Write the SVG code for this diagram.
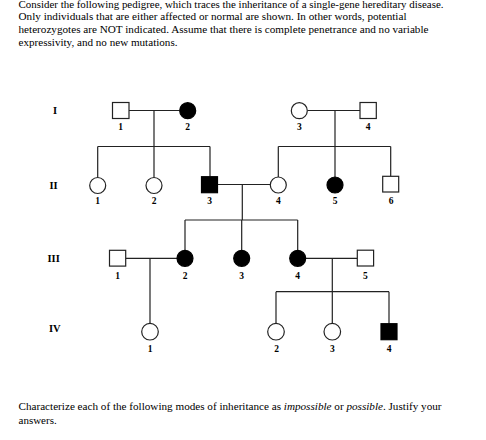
<svg xmlns="http://www.w3.org/2000/svg" width="486" height="440" viewBox="0 0 486 440">
<style>
.t{font-family:"Liberation Serif","Times New Roman",serif;font-size:11px;fill:#000}
.g{font-family:"Liberation Serif","Times New Roman",serif;font-size:10.5px;font-weight:bold;fill:#000}
.n{font-family:"Liberation Serif","Times New Roman",serif;font-size:9.5px;font-weight:bold;fill:#000;text-anchor:middle}
.ln{stroke:#222;stroke-width:1.2;fill:none}
.o{fill:#fff;stroke:#222;stroke-width:1.2}
.f{fill:#000;stroke:#000;stroke-width:1.2}
</style>
<rect width="486" height="440" fill="#fff"/>
<g id="intro">
<text class="t" x="18.5" y="7.5" textLength="425" lengthAdjust="spacingAndGlyphs">Consider the following pedigree, which traces the inheritance of a single-gene hereditary disease.</text>
<text class="t" x="18.5" y="20" textLength="388" lengthAdjust="spacingAndGlyphs">Only individuals that are either affected or normal are shown. In other words, potential</text>
<text class="t" x="18.5" y="33" textLength="410" lengthAdjust="spacingAndGlyphs">heterozygotes are NOT indicated. Assume that there is complete penetrance and no variable</text>
<text class="t" x="18.5" y="45.5" textLength="159" lengthAdjust="spacingAndGlyphs">expressivity, and no new mutations.</text>
</g>
<g id="gen-labels">
<text class="g" x="53" y="114">I</text>
<text class="g" x="49.5" y="189">II</text>
<text class="g" x="47.5" y="261.5">III</text>
<text class="g" x="49" y="331.5">IV</text>
</g>
<g id="connectors">
<path class="ln" d="M129 110.5H179.5M154 110.5V146.5M97.7 146.5H210M97.7 146.5V177.5M154 146.5V177.5M210 146.5V176.7"/>
<path class="ln" d="M307.5 110.5H360M335 110.5V146.5M278.3 146.5H390.7M278.3 146.5V177M335 146.5V177M390.7 146.5V176.3"/>
<path class="ln" d="M217.3 184.5H270M242.3 184.5V220M185 220H297.7M185 220V250M241.7 220V250M297.7 220V250"/>
<path class="ln" d="M125.7 258.3H177M150 258.3V323.4"/>
<path class="ln" d="M306 258.3H357.3M332.3 258.3V291.7M276 291.7H389M276 291.7V323.4M332.3 291.7V323.4M389 291.7V323.7"/>
</g>
<g id="I-1"><rect class="o" x="112.5" y="102.5" width="16.5" height="16"/><text class="n" x="120.5" y="130">1</text></g>
<g id="I-2"><circle class="f" cx="187.7" cy="110.7" r="8"/><text class="n" x="187.7" y="130">2</text></g>
<g id="I-3"><circle class="o" cx="299.3" cy="110.7" r="8"/><text class="n" x="299.3" y="130">3</text></g>
<g id="I-4"><rect class="o" x="360" y="102.5" width="16.3" height="16"/><text class="n" x="368" y="130">4</text></g>
<g id="II-1"><circle class="o" cx="97.7" cy="185.5" r="8"/><text class="n" x="97.7" y="203.5">1</text></g>
<g id="II-2"><circle class="o" cx="154" cy="185.5" r="8"/><text class="n" x="154" y="203.5">2</text></g>
<g id="II-3"><rect class="f" x="201.5" y="176.7" width="16" height="16"/><text class="n" x="209.5" y="203.5">3</text></g>
<g id="II-4"><circle class="o" cx="278.3" cy="185" r="8"/><text class="n" x="278.3" y="203.5">4</text></g>
<g id="II-5"><circle class="f" cx="335" cy="185" r="8"/><text class="n" x="335" y="203.5">5</text></g>
<g id="II-6"><rect class="o" x="382.7" y="176.3" width="16" height="15.7"/><text class="n" x="391" y="203.5">6</text></g>
<g id="III-1"><rect class="o" x="109.5" y="250.3" width="16.2" height="15.8"/><text class="n" x="117.7" y="278.5">1</text></g>
<g id="III-2"><circle class="f" cx="185" cy="258.3" r="8"/><text class="n" x="185" y="278.5">2</text></g>
<g id="III-3"><circle class="f" cx="241.7" cy="258.3" r="8"/><text class="n" x="241.7" y="278.5">3</text></g>
<g id="III-4"><circle class="f" cx="297.7" cy="258.3" r="8"/><text class="n" x="297.7" y="278.5">4</text></g>
<g id="III-5"><rect class="o" x="357.3" y="250.2" width="16.3" height="15.8"/><text class="n" x="365.3" y="278.5">5</text></g>
<g id="IV-1"><circle class="o" cx="150" cy="331.7" r="8.3"/><text class="n" x="150" y="352">1</text></g>
<g id="IV-2"><circle class="o" cx="276" cy="331.7" r="8.3"/><text class="n" x="276.5" y="352">2</text></g>
<g id="IV-3"><circle class="o" cx="332.3" cy="331.7" r="8.3"/><text class="n" x="332.3" y="352">3</text></g>
<g id="IV-4"><rect class="f" x="381" y="323.7" width="16" height="16"/><text class="n" x="389" y="352">4</text></g>
<g id="question">
<text class="t" x="18.5" y="409.5" textLength="423" lengthAdjust="spacingAndGlyphs">Characterize each of the following modes of inheritance as <tspan font-style="italic">impossible</tspan> or <tspan font-style="italic">possible</tspan>. Justify your</text>
<text class="t" x="18.5" y="423.5">answers.</text>
</g>
</svg>
